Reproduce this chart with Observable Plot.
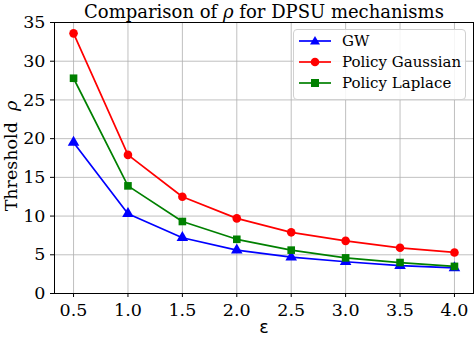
<!DOCTYPE html>
<html><head><meta charset="utf-8">
<script src="https://cdn.jsdelivr.net/npm/d3@7"></script>
<script src="https://cdn.jsdelivr.net/npm/@observablehq/plot@0.6"></script>
<style>
body{margin:0;background:#fff;}
#wrap{position:relative;width:474px;height:338px;}
#legend{position:absolute;left:293px;top:29px;width:173px;height:71px;border:1px solid #d0d0d0;border-radius:4px;background:rgba(255,255,255,0.85);box-sizing:border-box;font-family:"DejaVu Serif";font-size:15px;white-space:nowrap;}
.row{position:absolute;left:5px;display:flex;align-items:center;height:16px;white-space:nowrap;}
.row span{margin-left:11px;line-height:16px;white-space:nowrap;}
</style></head><body>
<div id="wrap"></div>
<script>
const epsilon = [0.5, 1.0, 1.5, 2.0, 2.5, 3.0, 3.5, 4.0];
const gw = [19.5, 10.3, 7.2, 5.6, 4.7, 4.1, 3.6, 3.3];
const policyGaussian = [33.6, 17.9, 12.5, 9.7, 7.9, 6.8, 5.9, 5.3];
const policyLaplace = [27.8, 13.9, 9.3, 7.0, 5.6, 4.6, 4.0, 3.5];
const seriesNames = ["GW", "Policy Gaussian", "Policy Laplace"];
const seriesColors = ["#0000ff", "#ff0000", "#008000"];
const seriesSymbols = ["triangle", "circle", "square"];
const xTicks = [0.5, 1.0, 1.5, 2.0, 2.5, 3.0, 3.5, 4.0];
const yTicks = [0, 5, 10, 15, 20, 25, 30, 35];

const valuesBySeries = [gw, policyGaussian, policyLaplace];
const data = [];
valuesBySeries.forEach((vals, s) => vals.forEach((v, i) => data.push({eps: epsilon[i], rho: v, series: seriesNames[s]})));

const serif = "DejaVu Serif";
const FS = 17.5;
const plot = Plot.plot({
  width: 474, height: 338,
  marginTop: 22, marginLeft: 54, marginRight: 1, marginBottom: 45,
  style: {fontFamily: serif, fontSize: FS + "px", color: "#000", background: "#fff"},
  x: {domain: [0.325, 4.175], label: null},
  y: {domain: [0, 35], label: null},
  color: {domain: seriesNames, range: seriesColors},
  symbol: {domain: seriesNames, range: seriesSymbols},
  marks: [
    Plot.gridX(xTicks, {stroke: "#b0b0b0", strokeOpacity: 0.8, strokeWidth: 1}),
    Plot.gridY(yTicks, {stroke: "#b0b0b0", strokeOpacity: 0.8, strokeWidth: 1}),
    Plot.axisX({ticks: xTicks, tickFormat: d => d.toFixed(1), tickSize: 4, tickPadding: 6, label: null, fontSize: FS}),
    Plot.axisY({ticks: yTicks, tickSize: 4, tickPadding: 5, label: null, fontSize: FS}),
    Plot.line(data, {x: "eps", y: "rho", z: "series", stroke: "series", strokeWidth: 1.7}),
    Plot.dot(data, {x: "eps", y: "rho", fill: "series", symbol: "series", r: 4.3, stroke: "none"}),
    Plot.frame({stroke: "#000", strokeWidth: 1}),
    Plot.text(["Comparison of "], {frameAnchor: "top", lineAnchor: "bottom", dy: -5, text: d => d, fontSize: 18, fontFamily: serif})
  ]
});
document.getElementById("wrap").appendChild(plot);
const svg = d3.select(plot);
svg.selectAll("text").filter(function(){ return this.textContent === "Comparison of "; })
  .each(function(){
    const t = d3.select(this);
    t.text(null);
    t.append("tspan").text("Comparison of ");
    t.append("tspan").attr("font-style","italic").text("ρ");
    t.append("tspan").text(" for DPSU mechanisms");
  });
svg.append("text").attr("transform","translate(17,156) rotate(-90)").attr("text-anchor","middle")
  .attr("font-family", serif).attr("font-size", FS)
  .call(t => { t.append("tspan").text("Threshold  "); t.append("tspan").attr("font-style","italic").text("ρ"); });
svg.append("text").attr("x", 264).attr("y", 333).attr("text-anchor","middle")
  .attr("font-family", "DejaVu Sans").attr("font-size", FS).text("ε");

const leg = document.createElement("div");
leg.id = "legend";
seriesNames.forEach((name, i) => {
  const row = document.createElement("div");
  row.className = "row";
  row.style.top = (3 + i * 21) + "px";
  const sym = seriesSymbols[i];
  const c = seriesColors[i];
  const shape = sym === "circle" ? `<circle cx="16" cy="8" r="4.3" fill="${c}"/>`
    : sym === "square" ? `<rect x="12" y="4" width="8" height="8" fill="${c}"/>`
    : `<path d="M16,3 L21,11.5 L11,11.5 Z" fill="${c}"/>`;
  row.innerHTML = `<svg width="32" height="16"><line x1="0" x2="32" y1="8" y2="8" stroke="${c}" stroke-width="1.7"/>${shape}</svg><span>${name}</span>`;
  leg.appendChild(row);
});
document.getElementById("wrap").appendChild(leg);
</script>
</body></html>
